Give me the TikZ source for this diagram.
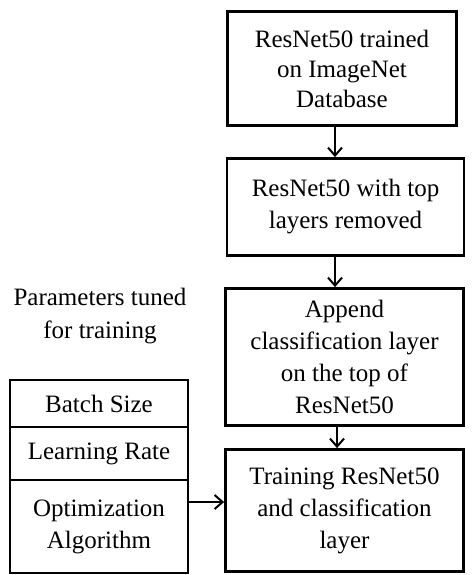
\documentclass[tikz,border=0pt]{standalone}
\usepackage{fontspec}
\setmainfont{Liberation Serif}
\usetikzlibrary{arrows.meta}
\begin{document}
\begin{tikzpicture}[x=1pt,y=-1pt,
  box/.style={draw=black,line width=2.8pt,align=center,inner sep=0pt,
    font=\fontsize{25}{32}\selectfont},
  cell/.style={draw=black,line width=2.8pt,align=center,inner sep=0pt,minimum width=178pt,
    font=\fontsize{25}{32}\selectfont},
  lbl/.style={align=center,inner sep=0pt,font=\fontsize{25}{33}\selectfont},
  arr/.style={line width=2pt,-{Straight Barb[length=8pt,width=14pt,line width=2pt]}}]
\useasboundingbox (0,0) rectangle (474,575);
\node[box,minimum width=229pt,minimum height=114pt,font=\fontsize{25}{30}\selectfont] (b1) at (342,68.5) {ResNet50 trained\\on ImageNet\\Database};
\node[box,minimum width=237pt,minimum height=97pt] (b2) at (345.5,207) {ResNet50 with top\\layers removed};
\node[box,minimum width=238pt,minimum height=137pt] (b3) at (344.5,357) {Append\\classification layer\\on the top of\\ResNet50};
\node[box,minimum width=238pt,minimum height=122pt] (b4) at (344.5,510.5) {Training ResNet50\\and classification\\layer};
\node[lbl] (p) at (100,316) {Parameters tuned\\for training};
\node[cell,minimum height=47pt] (c1) at (99,403.5) {Batch Size};
\node[cell,minimum height=53pt] (c2) at (99,453.5) {Learning Rate};
\node[cell,minimum height=93pt] (c3) at (99,526.5) {Optimization\\Algorithm};
\draw[arr] ([xshift=-7pt]b1.south) -- ([xshift=-10.5pt]b2.north);
\draw[arr] ([xshift=-10.5pt]b2.south) -- ([xshift=-9.5pt]b3.north);
\draw[arr] ([xshift=-7.5pt]b3.south) -- ([xshift=-7.5pt]b4.north);
\draw[arr] (c3.east |- 0,502) -- (b4.west |- 0,502);
\end{tikzpicture}
\end{document}
